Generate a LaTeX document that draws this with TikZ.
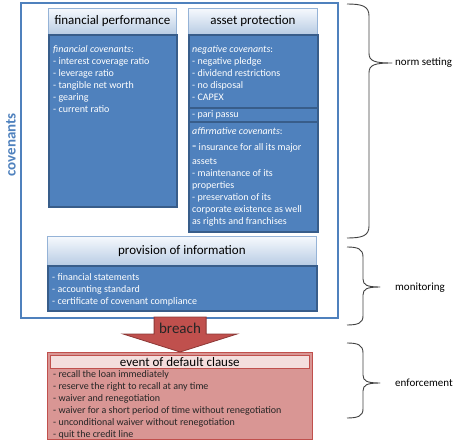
\documentclass[tikz,border=0pt]{standalone}
\usepackage{fontspec}
\setmainfont{Carlito}
\definecolor{covblue}{RGB}{79,129,189}
\definecolor{covdark}{RGB}{56,93,138}
\definecolor{hdrtop}{RGB}{246,249,253}
\definecolor{hdrbot}{RGB}{184,204,228}
\definecolor{hdrline}{RGB}{149,179,215}
\definecolor{brred}{RGB}{192,80,77}
\definecolor{brdark}{RGB}{140,56,54}
\definecolor{evfill}{RGB}{217,150,148}
\definecolor{evhead}{RGB}{244,222,221}
\definecolor{bracegray}{RGB}{64,64,64}

\begin{document}
\begin{tikzpicture}[x=1pt, y=-1pt,
		hdr/.style={draw=hdrline, line width=0.8pt, top color=hdrtop, bottom color=hdrbot, anchor=north west, inner sep=0pt, font=\fontsize{13}{15}\selectfont},
		body/.style={draw=covdark, line width=1.5pt, fill=covblue, anchor=north west, inner sep=0pt},
		bodytxt/.style={text=white, anchor=north west, align=left, inner sep=0pt, font=\fontsize{10}{12}\selectfont},
		evtxt/.style={text=black!85, anchor=north west, align=left, inner sep=0pt, font=\fontsize{10}{12}\selectfont},
		lbl/.style={anchor=west, inner sep=0pt, font=\fontsize{11}{13}\selectfont},
		brace/.style={draw=bracegray, line width=0.9pt, line join=round}]
		\useasboundingbox (0,0) rectangle (467,447);
		% outer frame of the covenants
		\node [draw=covblue, line width=2pt, anchor=north west, minimum width=317pt, minimum height=315pt, inner sep=0pt] (cov) at (20,2) {};
		\node [rotate=90, text=covblue, font=\fontsize{15}{17}\selectfont\bfseries] (covlbl) at (11,145) {covenants};
		% financial performance
		\node [hdr, minimum width=128pt, minimum height=26pt] (fphead) at (48,8) {financial performance};
		\node [body, minimum width=128pt, minimum height=172pt] (fpbody) at (48,34) {};
		\node [bodytxt] (fptxt) at (53,45.5) {\textit{financial covenants}:\\- interest coverage ratio\\- leverage ratio\\- tangible net worth\\- gearing\\- current ratio};
		% asset protection
		\node [hdr, minimum width=129pt, minimum height=26pt] (aphead) at (188,8) {asset protection};
		\node [body, minimum width=129pt, minimum height=73pt] (negbody) at (188,34) {};
		\node [bodytxt] (negtxt) at (192,45.5) {\textit{negative covenants}:\\- negative pledge\\- dividend restrictions\\- no disposal\\- CAPEX};
		\node [body, minimum width=129pt, minimum height=14pt] (paribody) at (188,107) {};
		\node [bodytxt, anchor=west] (paritxt) at (192,114.5) {- pari passu};
		\node [body, minimum width=129pt, minimum height=110pt] (affbody) at (188,121) {};
		\node [bodytxt] (afftxt) at (192,127) {\textit{affirmative covenants}:\\[4pt]{\fontsize{14}{12}\selectfont -} insurance for all its major\\[2pt]assets\\- maintenance of its\\properties\\- preservation of its\\corporate existence as well\\as rights and franchises};
		% provision of information
		\node [hdr, minimum width=269pt, minimum height=29pt] (pihead) at (47,236) {provision of information};
		\node [body, minimum width=269pt, minimum height=45pt] (pibody) at (47,265) {};
		\node [bodytxt] (pitxt) at (52,273.5) {- financial statements\\- accounting standard\\- certificate of covenant compliance};
		% event of default clause
		\node [draw=brred, line width=1.2pt, fill=evfill, anchor=north west, minimum width=265pt, minimum height=87pt, inner sep=0pt] (evt) at (47,352) {};
		\node [draw=brred, line width=0.6pt, fill=evhead, anchor=north west, minimum width=259pt, minimum height=13pt, inner sep=0pt, font=\fontsize{13}{13}\selectfont] (evhead) at (50,355) {event of default clause};
		\node [evtxt] (evlist) at (53,370) {- recall the loan immediately\\- reserve the right to recall at any time\\- waiver and renegotiation\\- waiver for a short period of time without renegotiation\\- unconditional waiver without renegotiation\\- quit the credit line};
		% breach arrow from the frame down to the clause
		\draw [fill=brred, draw=brdark, line width=0.8pt] (evt.north) -- ++(-57,-18) -- ++(31,0) -- ++(0,-17) -- ++(52,0) -- ++(0,17) -- ++(31,0) -- cycle;
		\node [font=\fontsize{15}{17}\selectfont, text=black!85] (breach) at (180,328.5) {breach};
		% braces with their labels
		\node [lbl] (normlbl) at (395,63) {norm setting};
		\node [lbl] (monlbl) at (395,288) {monitoring};
		\node [lbl] (enflbl) at (395,383) {enforcement};
		\draw [brace] (347,4) .. controls (362,4) and (369,6) .. (369,16) -- (369,53) .. controls (369,61) and (374,63) .. (392,63) .. controls (374,63) and (369,65) .. (369,73) -- (369,226) .. controls (369,236) and (362,238) .. (347,238);
		\draw [brace] (347,247) .. controls (358,247) and (363,249) .. (363,257) -- (363,279) .. controls (363,285) and (367,287) .. (380,287) .. controls (367,287) and (363,289) .. (363,295) -- (363,316) .. controls (363,323) and (358,325) .. (347,325);
		\draw [brace] (347,343) .. controls (358,343) and (363,345) .. (363,353) -- (363,375) .. controls (363,381) and (367,383) .. (380,383) .. controls (367,383) and (363,385) .. (363,391) -- (363,409) .. controls (363,416) and (358,418) .. (347,418);
	\end{tikzpicture}
\end{document}
